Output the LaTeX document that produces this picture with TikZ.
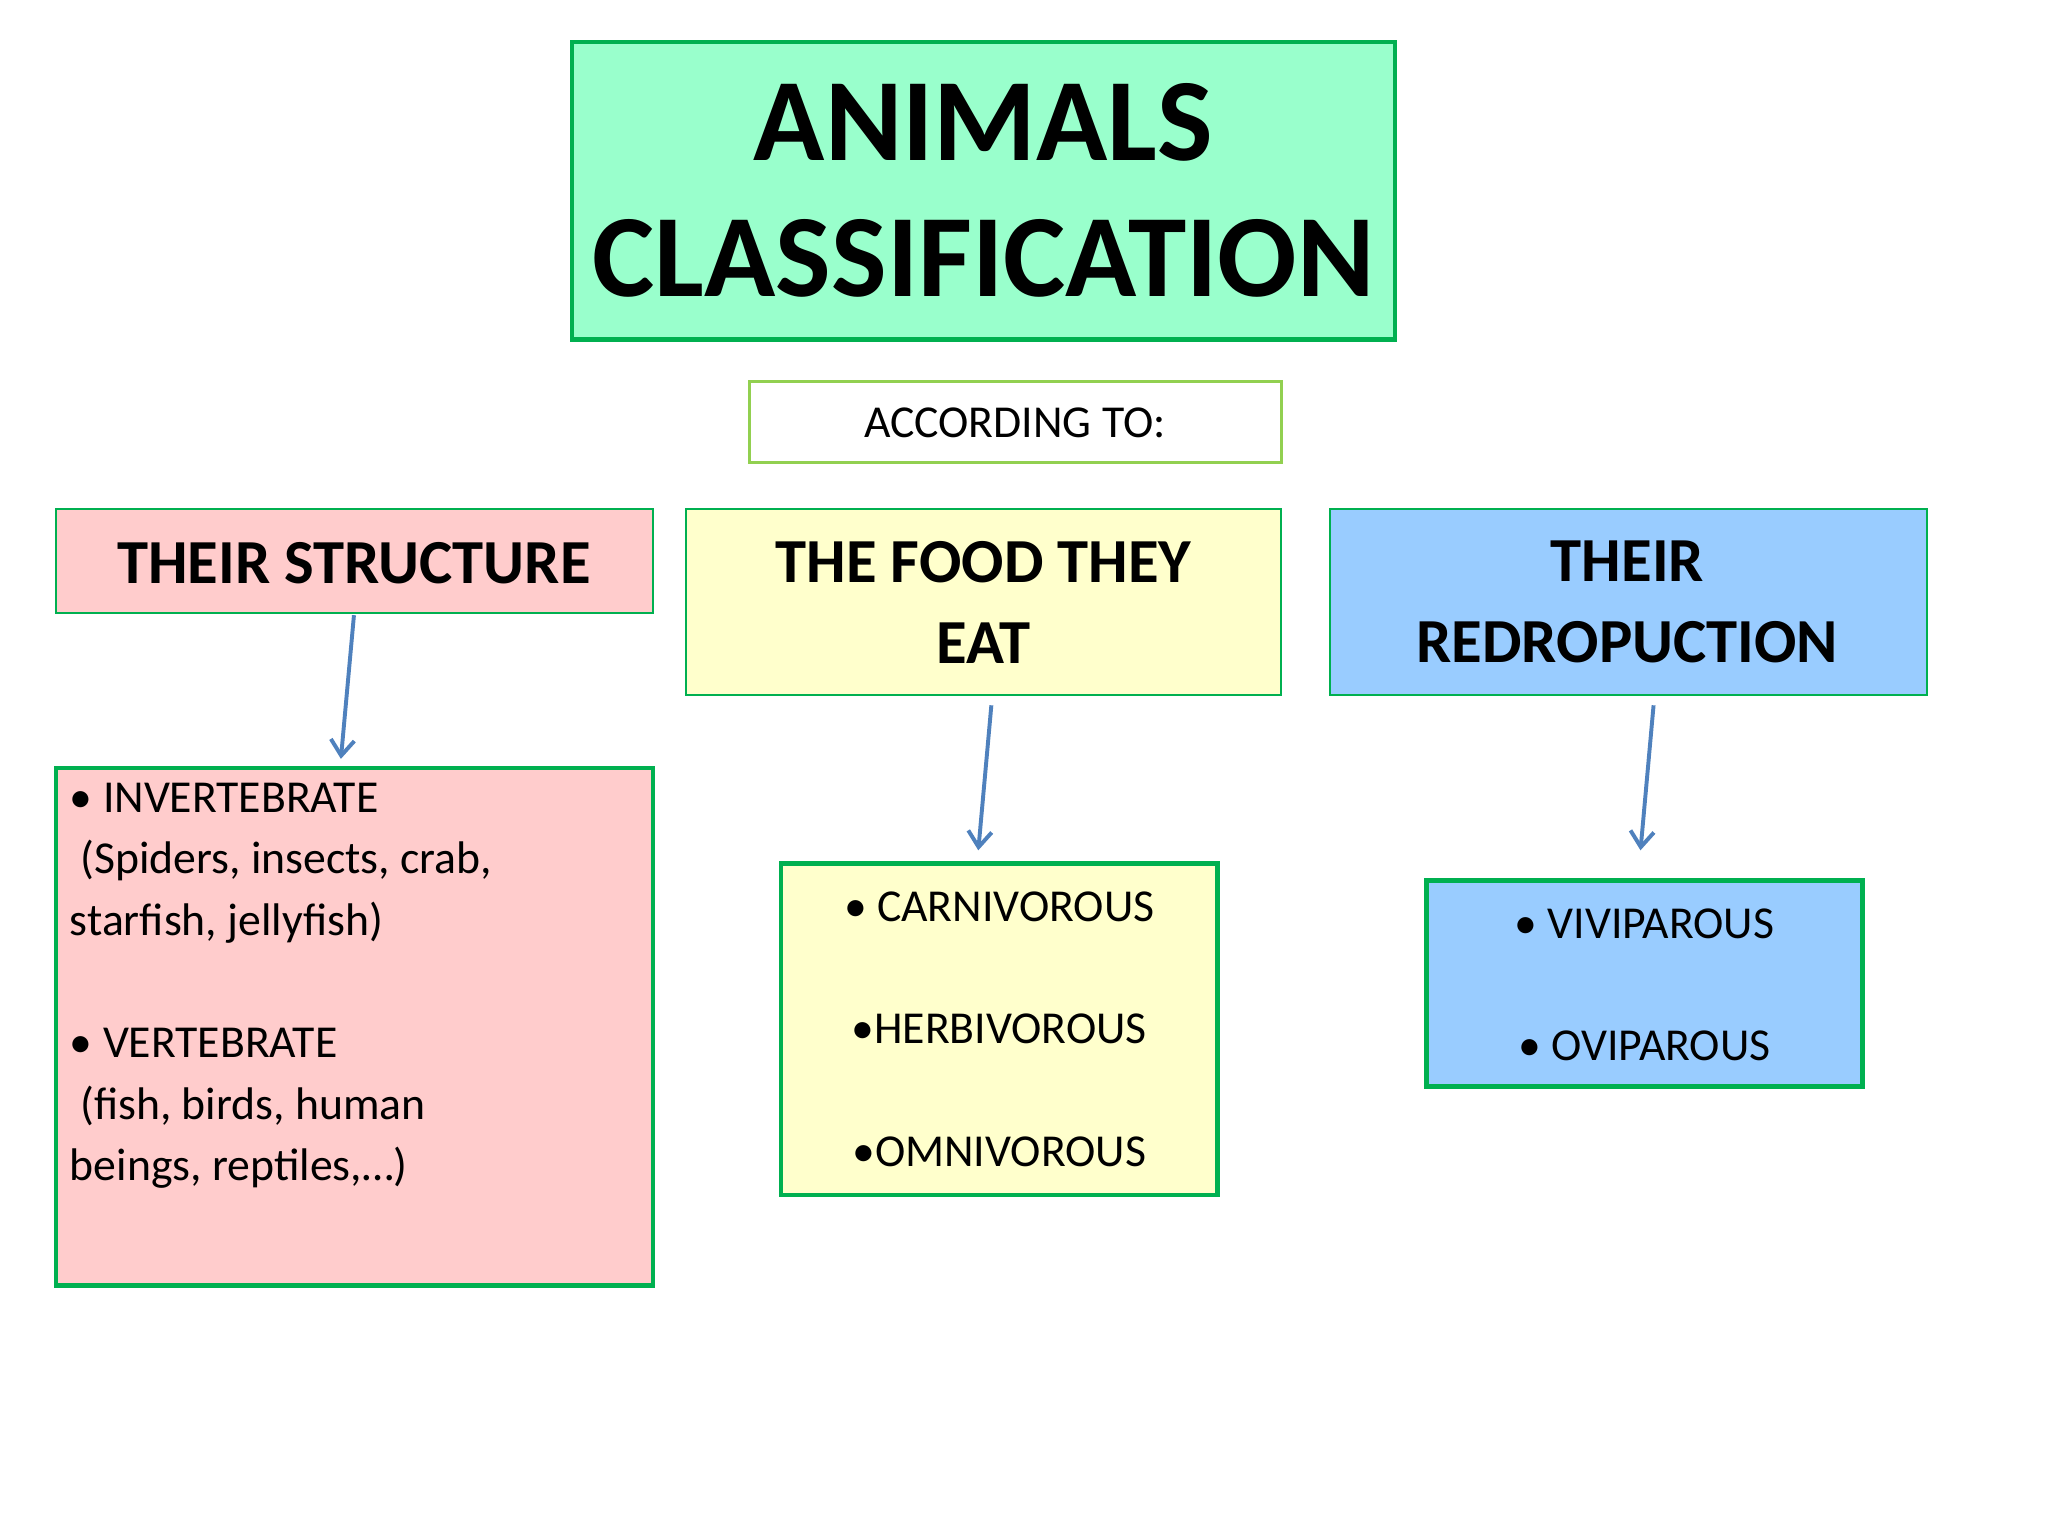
\documentclass[tikz,border=0pt]{standalone}
\usepackage{fontspec}
\setmainfont{Carlito}
\usetikzlibrary{arrows.meta}
\definecolor{gbord}{HTML}{00B050}
\definecolor{lgbord}{HTML}{92D050}
\definecolor{mint}{HTML}{99FFCC}
\definecolor{pinkf}{HTML}{FFCCCC}
\definecolor{yelf}{HTML}{FFFFCC}
\definecolor{bluef}{HTML}{99CCFF}
\definecolor{arr}{HTML}{4F81BD}
\tikzset{
  thinbox/.style={draw=gbord,line width=1.5pt},
  thickbox/.style={draw=gbord,line width=3.5pt},
  conn/.style={draw=arr,line width=3pt,-{Straight Barb[length=12pt,width=18pt,line width=3pt]}},
  body/.style={font=\fontsize{35}{47}\selectfont,align=left},
  head/.style={font=\fontsize{48}{62}\selectfont\bfseries,align=center}
}
\begin{document}
\begin{tikzpicture}[x=1pt,y=-1pt]
\useasboundingbox (0,0) rectangle (1568,1176);
\fill[white] (0,0) rectangle (1568,1176);
\draw[thickbox,fill=mint] (438,32) rectangle (1068,260);
\node[font=\fontsize{90}{104}\selectfont\bfseries,align=center] (title) at (753,146) {ANIMALS\\CLASSIFICATION};
\draw[draw=lgbord,line width=2pt,fill=white] (574,292) rectangle (981,354);
\node[font=\fontsize{35}{40}\selectfont] (acc) at (777,324) {ACCORDING TO:};
\draw[thinbox,fill=pinkf] (43,390) rectangle (500,469);
\node[head] (s) at (271,431) {THEIR STRUCTURE};
\draw[thinbox,fill=yelf] (525,390) rectangle (981,532);
\node[head] (f) at (753,461) {THE FOOD THEY\\EAT};
\draw[thinbox,fill=bluef] (1018,390) rectangle (1475,532);
\node[head] (r) at (1246,461) {THEIR\\REDROPUCTION};
\draw[thickbox,fill=pinkf] (43,588) rectangle (500,984);
\node[body,anchor=north west] (sb) at (50,596) {• INVERTEBRATE\\\ (Spiders, insects, crab,\\starfish, jellyfish)\\[47pt]• VERTEBRATE\\\ (fish, birds, human\\beings, reptiles,…)};
\draw[thickbox,fill=yelf] (598,661) rectangle (932,915);
\node[body,align=center] (fb) at (765,788) {• CARNIVOROUS\\[47pt]•HERBIVOROUS\\[47pt]•OMNIVOROUS};
\draw[thickbox,fill=bluef] (1092,674) rectangle (1426,832);
\node[body,align=center] (rb) at (1259,754) {• VIVIPAROUS\\[47pt]• OVIPAROUS};
\coordinate (s1) at (271,471); \coordinate (s2) at (261,581);
\coordinate (f1) at (759,540); \coordinate (f2) at (749,651);
\coordinate (r1) at (1266,540); \coordinate (r2) at (1256,651);
\draw[conn] (s1) -- (s2);
\draw[conn] (f1) -- (f2);
\draw[conn] (r1) -- (r2);
\end{tikzpicture}
\end{document}
